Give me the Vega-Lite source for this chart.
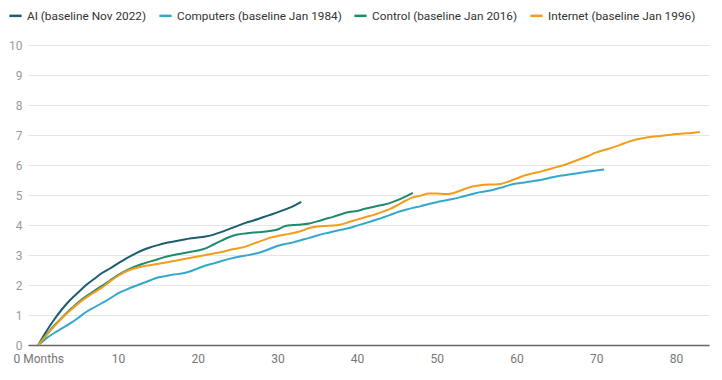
{
  "$schema": "https://vega.github.io/schema/vega-lite/v6.json",
  "autosize": {"type": "none"},
  "width": 681,
  "height": 300,
  "padding": {"left": 28, "top": 45, "right": 13, "bottom": 35},
  "background": "white",
  "config": {
    "view": {"stroke": null},
    "font": "Roboto"
  },
  "data": {"values": [
    {"series":"AI (baseline Nov 2022)","month":0,"value":0},{"series":"AI (baseline Nov 2022)","month":1,"value":0.45},{"series":"AI (baseline Nov 2022)","month":2,"value":0.85},{"series":"AI (baseline Nov 2022)","month":3,"value":1.2},{"series":"AI (baseline Nov 2022)","month":4,"value":1.5},{"series":"AI (baseline Nov 2022)","month":5,"value":1.75},{"series":"AI (baseline Nov 2022)","month":6,"value":2.0},{"series":"AI (baseline Nov 2022)","month":7,"value":2.2},{"series":"AI (baseline Nov 2022)","month":8,"value":2.4},{"series":"AI (baseline Nov 2022)","month":9,"value":2.55},{"series":"AI (baseline Nov 2022)","month":10,"value":2.72},{"series":"AI (baseline Nov 2022)","month":11,"value":2.88},{"series":"AI (baseline Nov 2022)","month":12,"value":3.02},{"series":"AI (baseline Nov 2022)","month":13,"value":3.15},{"series":"AI (baseline Nov 2022)","month":14,"value":3.25},{"series":"AI (baseline Nov 2022)","month":15,"value":3.33},{"series":"AI (baseline Nov 2022)","month":16,"value":3.4},{"series":"AI (baseline Nov 2022)","month":17,"value":3.45},{"series":"AI (baseline Nov 2022)","month":18,"value":3.5},{"series":"AI (baseline Nov 2022)","month":19,"value":3.55},{"series":"AI (baseline Nov 2022)","month":20,"value":3.58},{"series":"AI (baseline Nov 2022)","month":21,"value":3.62},{"series":"AI (baseline Nov 2022)","month":22,"value":3.68},{"series":"AI (baseline Nov 2022)","month":23,"value":3.77},{"series":"AI (baseline Nov 2022)","month":24,"value":3.87},{"series":"AI (baseline Nov 2022)","month":25,"value":3.97},{"series":"AI (baseline Nov 2022)","month":26,"value":4.07},{"series":"AI (baseline Nov 2022)","month":27,"value":4.15},{"series":"AI (baseline Nov 2022)","month":28,"value":4.24},{"series":"AI (baseline Nov 2022)","month":29,"value":4.33},{"series":"AI (baseline Nov 2022)","month":30,"value":4.42},{"series":"AI (baseline Nov 2022)","month":31,"value":4.52},{"series":"AI (baseline Nov 2022)","month":32,"value":4.63},{"series":"AI (baseline Nov 2022)","month":33,"value":4.77},
    {"series":"Computers (baseline Jan 1984)","month":0,"value":0},{"series":"Computers (baseline Jan 1984)","month":1,"value":0.22},{"series":"Computers (baseline Jan 1984)","month":2,"value":0.4},{"series":"Computers (baseline Jan 1984)","month":3,"value":0.56},{"series":"Computers (baseline Jan 1984)","month":4,"value":0.72},{"series":"Computers (baseline Jan 1984)","month":5,"value":0.9},{"series":"Computers (baseline Jan 1984)","month":6,"value":1.1},{"series":"Computers (baseline Jan 1984)","month":7,"value":1.25},{"series":"Computers (baseline Jan 1984)","month":8,"value":1.4},{"series":"Computers (baseline Jan 1984)","month":9,"value":1.55},{"series":"Computers (baseline Jan 1984)","month":10,"value":1.72},{"series":"Computers (baseline Jan 1984)","month":11,"value":1.84},{"series":"Computers (baseline Jan 1984)","month":12,"value":1.95},{"series":"Computers (baseline Jan 1984)","month":13,"value":2.05},{"series":"Computers (baseline Jan 1984)","month":14,"value":2.15},{"series":"Computers (baseline Jan 1984)","month":15,"value":2.25},{"series":"Computers (baseline Jan 1984)","month":16,"value":2.3},{"series":"Computers (baseline Jan 1984)","month":17,"value":2.35},{"series":"Computers (baseline Jan 1984)","month":18,"value":2.38},{"series":"Computers (baseline Jan 1984)","month":19,"value":2.45},{"series":"Computers (baseline Jan 1984)","month":20,"value":2.55},{"series":"Computers (baseline Jan 1984)","month":21,"value":2.65},{"series":"Computers (baseline Jan 1984)","month":22,"value":2.72},{"series":"Computers (baseline Jan 1984)","month":23,"value":2.8},{"series":"Computers (baseline Jan 1984)","month":24,"value":2.87},{"series":"Computers (baseline Jan 1984)","month":25,"value":2.93},{"series":"Computers (baseline Jan 1984)","month":26,"value":2.98},{"series":"Computers (baseline Jan 1984)","month":27,"value":3.03},{"series":"Computers (baseline Jan 1984)","month":28,"value":3.1},{"series":"Computers (baseline Jan 1984)","month":29,"value":3.2},{"series":"Computers (baseline Jan 1984)","month":30,"value":3.3},{"series":"Computers (baseline Jan 1984)","month":31,"value":3.37},{"series":"Computers (baseline Jan 1984)","month":32,"value":3.42},{"series":"Computers (baseline Jan 1984)","month":33,"value":3.5},{"series":"Computers (baseline Jan 1984)","month":34,"value":3.57},{"series":"Computers (baseline Jan 1984)","month":35,"value":3.65},{"series":"Computers (baseline Jan 1984)","month":36,"value":3.72},{"series":"Computers (baseline Jan 1984)","month":37,"value":3.78},{"series":"Computers (baseline Jan 1984)","month":38,"value":3.84},{"series":"Computers (baseline Jan 1984)","month":39,"value":3.9},{"series":"Computers (baseline Jan 1984)","month":40,"value":3.98},{"series":"Computers (baseline Jan 1984)","month":41,"value":4.06},{"series":"Computers (baseline Jan 1984)","month":42,"value":4.14},{"series":"Computers (baseline Jan 1984)","month":43,"value":4.23},{"series":"Computers (baseline Jan 1984)","month":44,"value":4.32},{"series":"Computers (baseline Jan 1984)","month":45,"value":4.42},{"series":"Computers (baseline Jan 1984)","month":46,"value":4.5},{"series":"Computers (baseline Jan 1984)","month":47,"value":4.57},{"series":"Computers (baseline Jan 1984)","month":48,"value":4.63},{"series":"Computers (baseline Jan 1984)","month":49,"value":4.7},{"series":"Computers (baseline Jan 1984)","month":50,"value":4.76},{"series":"Computers (baseline Jan 1984)","month":51,"value":4.82},{"series":"Computers (baseline Jan 1984)","month":52,"value":4.87},{"series":"Computers (baseline Jan 1984)","month":53,"value":4.93},{"series":"Computers (baseline Jan 1984)","month":54,"value":5.0},{"series":"Computers (baseline Jan 1984)","month":55,"value":5.07},{"series":"Computers (baseline Jan 1984)","month":56,"value":5.12},{"series":"Computers (baseline Jan 1984)","month":57,"value":5.17},{"series":"Computers (baseline Jan 1984)","month":58,"value":5.24},{"series":"Computers (baseline Jan 1984)","month":59,"value":5.32},{"series":"Computers (baseline Jan 1984)","month":60,"value":5.38},{"series":"Computers (baseline Jan 1984)","month":61,"value":5.42},{"series":"Computers (baseline Jan 1984)","month":62,"value":5.46},{"series":"Computers (baseline Jan 1984)","month":63,"value":5.5},{"series":"Computers (baseline Jan 1984)","month":64,"value":5.56},{"series":"Computers (baseline Jan 1984)","month":65,"value":5.62},{"series":"Computers (baseline Jan 1984)","month":66,"value":5.66},{"series":"Computers (baseline Jan 1984)","month":67,"value":5.7},{"series":"Computers (baseline Jan 1984)","month":68,"value":5.74},{"series":"Computers (baseline Jan 1984)","month":69,"value":5.78},{"series":"Computers (baseline Jan 1984)","month":70,"value":5.82},{"series":"Computers (baseline Jan 1984)","month":71,"value":5.85},
    {"series":"Control (baseline Jan 2016)","month":0,"value":0},{"series":"Control (baseline Jan 2016)","month":1,"value":0.33},{"series":"Control (baseline Jan 2016)","month":2,"value":0.65},{"series":"Control (baseline Jan 2016)","month":3,"value":0.92},{"series":"Control (baseline Jan 2016)","month":4,"value":1.18},{"series":"Control (baseline Jan 2016)","month":5,"value":1.42},{"series":"Control (baseline Jan 2016)","month":6,"value":1.62},{"series":"Control (baseline Jan 2016)","month":7,"value":1.8},{"series":"Control (baseline Jan 2016)","month":8,"value":1.97},{"series":"Control (baseline Jan 2016)","month":9,"value":2.15},{"series":"Control (baseline Jan 2016)","month":10,"value":2.33},{"series":"Control (baseline Jan 2016)","month":11,"value":2.48},{"series":"Control (baseline Jan 2016)","month":12,"value":2.6},{"series":"Control (baseline Jan 2016)","month":13,"value":2.7},{"series":"Control (baseline Jan 2016)","month":14,"value":2.78},{"series":"Control (baseline Jan 2016)","month":15,"value":2.86},{"series":"Control (baseline Jan 2016)","month":16,"value":2.94},{"series":"Control (baseline Jan 2016)","month":17,"value":3.0},{"series":"Control (baseline Jan 2016)","month":18,"value":3.05},{"series":"Control (baseline Jan 2016)","month":19,"value":3.1},{"series":"Control (baseline Jan 2016)","month":20,"value":3.15},{"series":"Control (baseline Jan 2016)","month":21,"value":3.22},{"series":"Control (baseline Jan 2016)","month":22,"value":3.35},{"series":"Control (baseline Jan 2016)","month":23,"value":3.48},{"series":"Control (baseline Jan 2016)","month":24,"value":3.6},{"series":"Control (baseline Jan 2016)","month":25,"value":3.68},{"series":"Control (baseline Jan 2016)","month":26,"value":3.72},{"series":"Control (baseline Jan 2016)","month":27,"value":3.75},{"series":"Control (baseline Jan 2016)","month":28,"value":3.77},{"series":"Control (baseline Jan 2016)","month":29,"value":3.8},{"series":"Control (baseline Jan 2016)","month":30,"value":3.85},{"series":"Control (baseline Jan 2016)","month":31,"value":3.97},{"series":"Control (baseline Jan 2016)","month":32,"value":4.0},{"series":"Control (baseline Jan 2016)","month":33,"value":4.02},{"series":"Control (baseline Jan 2016)","month":34,"value":4.05},{"series":"Control (baseline Jan 2016)","month":35,"value":4.12},{"series":"Control (baseline Jan 2016)","month":36,"value":4.2},{"series":"Control (baseline Jan 2016)","month":37,"value":4.27},{"series":"Control (baseline Jan 2016)","month":38,"value":4.36},{"series":"Control (baseline Jan 2016)","month":39,"value":4.43},{"series":"Control (baseline Jan 2016)","month":40,"value":4.47},{"series":"Control (baseline Jan 2016)","month":41,"value":4.54},{"series":"Control (baseline Jan 2016)","month":42,"value":4.6},{"series":"Control (baseline Jan 2016)","month":43,"value":4.66},{"series":"Control (baseline Jan 2016)","month":44,"value":4.72},{"series":"Control (baseline Jan 2016)","month":45,"value":4.82},{"series":"Control (baseline Jan 2016)","month":46,"value":4.94},{"series":"Control (baseline Jan 2016)","month":47,"value":5.07},
    {"series":"Internet (baseline Jan 1996)","month":0,"value":0},{"series":"Internet (baseline Jan 1996)","month":1,"value":0.32},{"series":"Internet (baseline Jan 1996)","month":2,"value":0.62},{"series":"Internet (baseline Jan 1996)","month":3,"value":0.9},{"series":"Internet (baseline Jan 1996)","month":4,"value":1.15},{"series":"Internet (baseline Jan 1996)","month":5,"value":1.38},{"series":"Internet (baseline Jan 1996)","month":6,"value":1.58},{"series":"Internet (baseline Jan 1996)","month":7,"value":1.75},{"series":"Internet (baseline Jan 1996)","month":8,"value":1.92},{"series":"Internet (baseline Jan 1996)","month":9,"value":2.12},{"series":"Internet (baseline Jan 1996)","month":10,"value":2.3},{"series":"Internet (baseline Jan 1996)","month":11,"value":2.45},{"series":"Internet (baseline Jan 1996)","month":12,"value":2.55},{"series":"Internet (baseline Jan 1996)","month":13,"value":2.62},{"series":"Internet (baseline Jan 1996)","month":14,"value":2.66},{"series":"Internet (baseline Jan 1996)","month":15,"value":2.7},{"series":"Internet (baseline Jan 1996)","month":16,"value":2.75},{"series":"Internet (baseline Jan 1996)","month":17,"value":2.8},{"series":"Internet (baseline Jan 1996)","month":18,"value":2.85},{"series":"Internet (baseline Jan 1996)","month":19,"value":2.9},{"series":"Internet (baseline Jan 1996)","month":20,"value":2.95},{"series":"Internet (baseline Jan 1996)","month":21,"value":3.0},{"series":"Internet (baseline Jan 1996)","month":22,"value":3.05},{"series":"Internet (baseline Jan 1996)","month":23,"value":3.1},{"series":"Internet (baseline Jan 1996)","month":24,"value":3.17},{"series":"Internet (baseline Jan 1996)","month":25,"value":3.22},{"series":"Internet (baseline Jan 1996)","month":26,"value":3.28},{"series":"Internet (baseline Jan 1996)","month":27,"value":3.38},{"series":"Internet (baseline Jan 1996)","month":28,"value":3.47},{"series":"Internet (baseline Jan 1996)","month":29,"value":3.57},{"series":"Internet (baseline Jan 1996)","month":30,"value":3.63},{"series":"Internet (baseline Jan 1996)","month":31,"value":3.68},{"series":"Internet (baseline Jan 1996)","month":32,"value":3.73},{"series":"Internet (baseline Jan 1996)","month":33,"value":3.8},{"series":"Internet (baseline Jan 1996)","month":34,"value":3.9},{"series":"Internet (baseline Jan 1996)","month":35,"value":3.95},{"series":"Internet (baseline Jan 1996)","month":36,"value":3.97},{"series":"Internet (baseline Jan 1996)","month":37,"value":3.98},{"series":"Internet (baseline Jan 1996)","month":38,"value":4.02},{"series":"Internet (baseline Jan 1996)","month":39,"value":4.1},{"series":"Internet (baseline Jan 1996)","month":40,"value":4.18},{"series":"Internet (baseline Jan 1996)","month":41,"value":4.26},{"series":"Internet (baseline Jan 1996)","month":42,"value":4.33},{"series":"Internet (baseline Jan 1996)","month":43,"value":4.42},{"series":"Internet (baseline Jan 1996)","month":44,"value":4.52},{"series":"Internet (baseline Jan 1996)","month":45,"value":4.65},{"series":"Internet (baseline Jan 1996)","month":46,"value":4.8},{"series":"Internet (baseline Jan 1996)","month":47,"value":4.92},{"series":"Internet (baseline Jan 1996)","month":48,"value":4.98},{"series":"Internet (baseline Jan 1996)","month":49,"value":5.05},{"series":"Internet (baseline Jan 1996)","month":50,"value":5.05},{"series":"Internet (baseline Jan 1996)","month":51,"value":5.03},{"series":"Internet (baseline Jan 1996)","month":52,"value":5.06},{"series":"Internet (baseline Jan 1996)","month":53,"value":5.15},{"series":"Internet (baseline Jan 1996)","month":54,"value":5.25},{"series":"Internet (baseline Jan 1996)","month":55,"value":5.31},{"series":"Internet (baseline Jan 1996)","month":56,"value":5.34},{"series":"Internet (baseline Jan 1996)","month":57,"value":5.35},{"series":"Internet (baseline Jan 1996)","month":58,"value":5.37},{"series":"Internet (baseline Jan 1996)","month":59,"value":5.45},{"series":"Internet (baseline Jan 1996)","month":60,"value":5.55},{"series":"Internet (baseline Jan 1996)","month":61,"value":5.65},{"series":"Internet (baseline Jan 1996)","month":62,"value":5.72},{"series":"Internet (baseline Jan 1996)","month":63,"value":5.78},{"series":"Internet (baseline Jan 1996)","month":64,"value":5.85},{"series":"Internet (baseline Jan 1996)","month":65,"value":5.93},{"series":"Internet (baseline Jan 1996)","month":66,"value":6.0},{"series":"Internet (baseline Jan 1996)","month":67,"value":6.1},{"series":"Internet (baseline Jan 1996)","month":68,"value":6.2},{"series":"Internet (baseline Jan 1996)","month":69,"value":6.3},{"series":"Internet (baseline Jan 1996)","month":70,"value":6.42},{"series":"Internet (baseline Jan 1996)","month":71,"value":6.5},{"series":"Internet (baseline Jan 1996)","month":72,"value":6.58},{"series":"Internet (baseline Jan 1996)","month":73,"value":6.67},{"series":"Internet (baseline Jan 1996)","month":74,"value":6.77},{"series":"Internet (baseline Jan 1996)","month":75,"value":6.85},{"series":"Internet (baseline Jan 1996)","month":76,"value":6.9},{"series":"Internet (baseline Jan 1996)","month":77,"value":6.94},{"series":"Internet (baseline Jan 1996)","month":78,"value":6.97},{"series":"Internet (baseline Jan 1996)","month":79,"value":7.0},{"series":"Internet (baseline Jan 1996)","month":80,"value":7.03},{"series":"Internet (baseline Jan 1996)","month":81,"value":7.05},{"series":"Internet (baseline Jan 1996)","month":82,"value":7.07},{"series":"Internet (baseline Jan 1996)","month":83,"value":7.1}
  ]},
  "mark": {"type": "line", "strokeWidth": 2, "interpolate": "monotone"},
  "encoding": {
    "x": {
      "field": "month", "type": "quantitative",
      "scale": {"domain": [-1.29, 84.15], "nice": false, "zero": false},
      "axis": {
        "title": null, "values": [0,10,20,30,40,50,60,70,80],
        "labelExpr": "datum.value === 0 ? '0 Months' : datum.label",
        "grid": false, "ticks": false, "domain": true,
        "domainColor": "#666666", "domainWidth": 1.5,
        "labelColor": "#777777", "labelFont": "Roboto", "labelFontSize": 12,
        "labelPadding": 8, "labelFlush": false
      }
    },
    "y": {
      "field": "value", "type": "quantitative",
      "scale": {"domain": [0, 10], "nice": false},
      "axis": {
        "title": null, "values": [0,1,2,3,4,5,6,7,8,9,10],
        "grid": true, "gridColor": "#e6e6e6", "gridWidth": 1,
        "ticks": false, "domain": false,
        "labelColor": "#9a9a9a", "labelFont": "Roboto", "labelFontSize": 12,
        "labelPadding": 6
      }
    },
    "color": {
      "field": "series", "type": "nominal",
      "scale": {
        "domain": ["AI (baseline Nov 2022)", "Computers (baseline Jan 1984)", "Control (baseline Jan 2016)", "Internet (baseline Jan 1996)"],
        "range": ["#1b5d72", "#33a8cc", "#1f8a6c", "#f49c1c"]
      },
      "legend": {
        "title": null, "orient": "none", "direction": "horizontal",
        "legendX": -20, "legendY": -37,
        "symbolType": "stroke", "symbolStrokeWidth": 2.5, "symbolSize": 150,
        "labelFont": "Roboto", "labelFontSize": 11.8, "labelColor": "#333333",
        "labelOffset": 4, "columnPadding": 7, "labelLimit": 300
      }
    }
  }
}
